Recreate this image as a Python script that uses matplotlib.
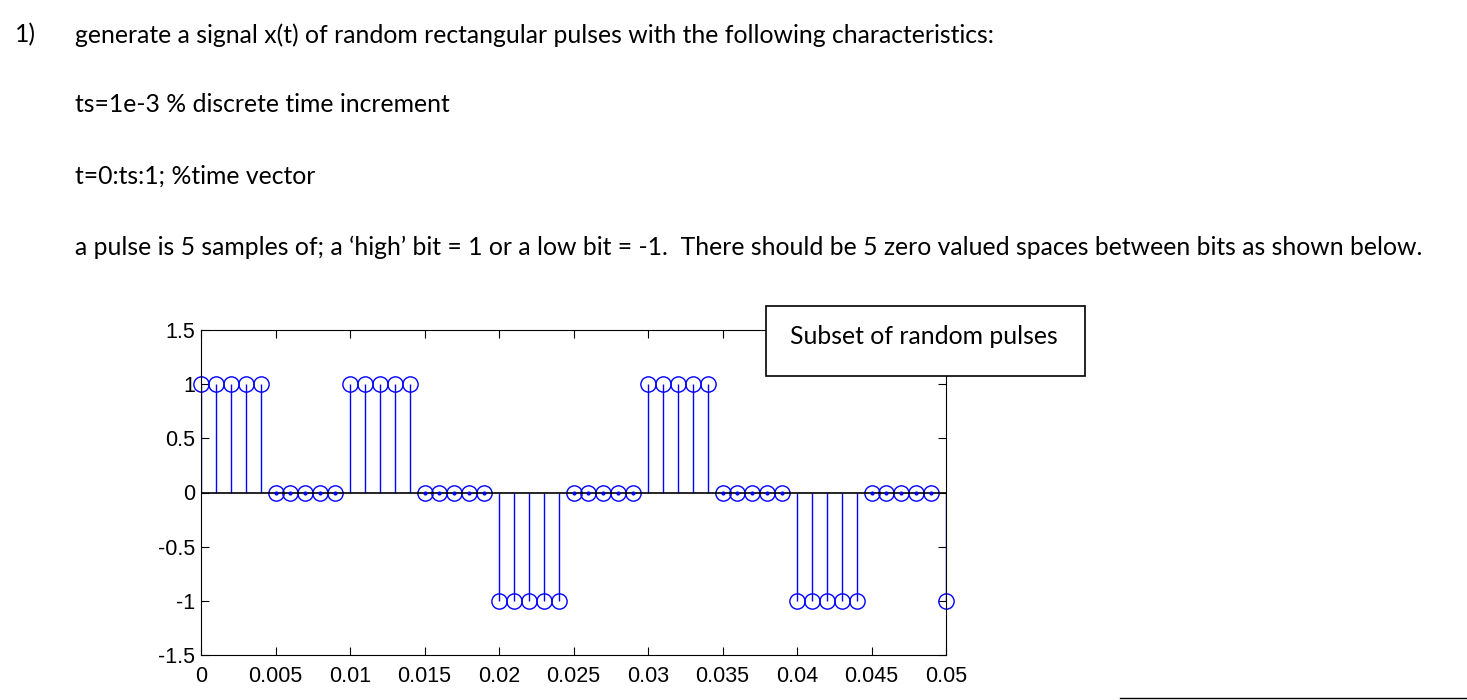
import matplotlib.pyplot as plt
from matplotlib.patches import Rectangle
import numpy as np

ts = 1e-3
# sign of each pulse; each pulse is followed by 5 zeros
pulses = [1, 1, -1, 1, -1]
x_vals = []
for p in pulses:
    x_vals += [p] * 5 + [0] * 5
x_vals.append(-1)
t = np.arange(len(x_vals)) * ts
x_vals = np.array(x_vals)

W, H = 1467, 700
fig = plt.figure(figsize=(W / 100, H / 100), dpi=100)

doc_font = ['Lato', 'DejaVu Sans']
def ft(px, py, s, **kw):
    fig.text(px / W, 1 - py / H, s, family=doc_font, fontsize=17.8, va='center', **kw)

ft(15, 35, '1)')
ft(75, 35, 'generate a signal x(t) of random rectangular pulses with the following characteristics:')
ft(75, 105, 'ts=1e-3 % discrete time increment')
ft(75, 176, 't=0:ts:1; %time vector')
ft(75, 247, 'a pulse is 5 samples of; a \u2018high\u2019 bit = 1 or a low bit = -1.  There should be 5 zero valued spaces between bits as shown below.')

ax = fig.add_axes([201 / W, 1 - 655 / H, (946 - 201) / W, (655 - 330) / H])
ml, sl, bl = ax.stem(t, x_vals, linefmt='b-', markerfmt='bo', basefmt='k-')
ml.set_markerfacecolor('none')
ml.set_markersize(11)
ml.set_markeredgewidth(1)
ml.set_clip_on(False)
sl.set_linewidth(1)
bl.set_linewidth(1.2)
zero = x_vals == 0
ax.plot(t[zero], x_vals[zero], 'b.', markersize=4)
ax.set_xlim(0, 0.05)
ax.set_ylim(-1.5, 1.5)
ax.set_xticks(np.arange(0, 0.0501, 0.005))
ax.set_xticklabels(['0', '0.005', '0.01', '0.015', '0.02', '0.025', '0.03', '0.035', '0.04', '0.045', '0.05'])
ax.set_yticks([-1.5, -1, -0.5, 0, 0.5, 1, 1.5])
ax.set_yticklabels(['-1.5', '-1', '-0.5', '0', '0.5', '1', '1.5'])
ax.tick_params(direction='in', top=True, right=True, labelsize=15.5, length=6)
ax.tick_params(axis='x', pad=8)
ax.tick_params(axis='y', pad=4)
for lab in ax.get_xticklabels() + ax.get_yticklabels():
    lab.set_family('Liberation Sans')

fig.patches.append(Rectangle((766 / W, 1 - 376 / H), (1085 - 766) / W, 70 / H,
                             transform=fig.transFigure, facecolor='white', edgecolor='black', lw=1.2))
ft(790, 337, 'Subset of random pulses')
fig.add_artist(plt.Line2D([1120 / W, 1], [1 - 698 / H] * 2, color='black', lw=1))

fig.savefig('out.png', dpi=100)
